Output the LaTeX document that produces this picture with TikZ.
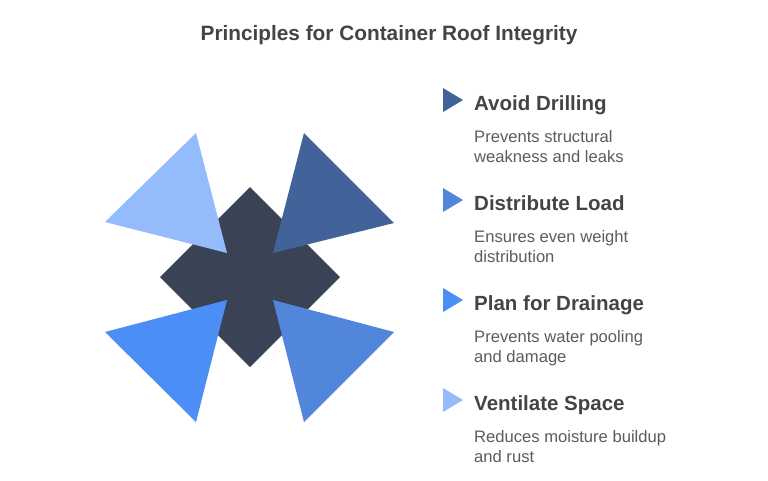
\documentclass[tikz,border=0pt]{standalone}
\usepackage{fontspec}
\setmainfont{Liberation Sans}
\usetikzlibrary{calc}

\definecolor{crossdark}{HTML}{3A4355}
\definecolor{bluepale}{HTML}{94BBFC}
\definecolor{bluedeep}{HTML}{41639A}
\definecolor{bluebright}{HTML}{4B8EF5}
\definecolor{bluemid}{HTML}{5186DA}
\definecolor{headgray}{HTML}{444444}
\definecolor{descgray}{HTML}{5C5C5C}

\begin{document}
\begin{tikzpicture}[x=1pt, y=-1pt,
    heading/.style={anchor=base west, inner sep=0pt, text=headgray,
      font=\fontsize{20.5}{24}\selectfont\bfseries},
    desc/.style={anchor=base west, inner sep=0pt, text=descgray, align=left,
      font=\fontsize{16.6}{19.5}\selectfont}]
    \useasboundingbox[fill=white] (0,0) rectangle (768,480);% Fixes the page size

    \node[heading, anchor=base, font=\fontsize{20.8}{24}\selectfont\bfseries]
        (Title) at (389,40) {Principles for Container Roof Integrity};

    \coordinate (Centre) at (250,277);
    \fill[crossdark] ($(Centre)+(0,-90)$) -- ($(Centre)+(90,0)$)
        -- ($(Centre)+(0,90)$) -- ($(Centre)+(-90,0)$) -- cycle;% The dark diamond
    % Four blades, each with its tip pointing into the centre
    \fill[bluepale]   (196,133) -- (105,222) -- (227,253) -- cycle;
    \fill[bluedeep]   (304,133) -- (394,223) -- (273,253) -- cycle;
    \fill[bluebright] (105,332) -- (227,300) -- (196,422) -- cycle;
    \fill[bluemid]    (273,300) -- (394,332) -- (304,422) -- cycle;

    \foreach \i/\c/\h/\d in {0/bluedeep/Avoid Drilling/{Prevents structural\\weakness and leaks},
        1/bluemid/Distribute Load/{Ensures even weight\\distribution},
        2/bluebright/Plan for Drainage/{Prevents water pooling\\and damage},
        3/bluepale/Ventilate Space/{Reduces moisture buildup\\and rust}}{%
      \coordinate (mark\i) at (443,100+100*\i);
      \fill[\c] ($(mark\i)+(0,-12)$) -- ($(mark\i)+(20,0)$) -- ($(mark\i)+(0,12)$) -- cycle;
      \node[heading] (head\i) at (474,110+100*\i) {\h};
      \node[desc] (desc\i) at (474,162+100*\i) {\d};% base = last line
    }
\end{tikzpicture}
\end{document}
